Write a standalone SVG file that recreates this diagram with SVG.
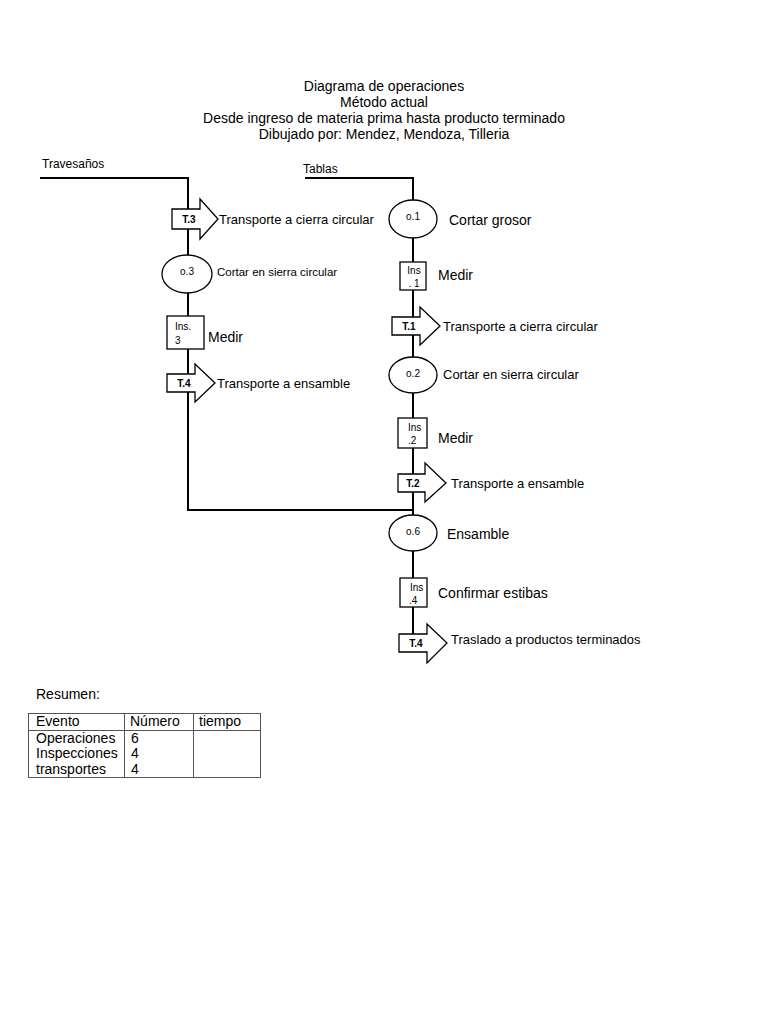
<svg xmlns="http://www.w3.org/2000/svg" width="768" height="1024" viewBox="0 0 768 1024">
<style>
text{font-family:"Liberation Sans",Arial,sans-serif;fill:#000}
.t{font-size:14px}
.m{font-size:13px}
.s{font-size:11.5px}
.lab{font-size:10px}
.b{font-size:10px;font-weight:bold}
.ln{stroke:#000;stroke-width:2;fill:none}
.sh{fill:#fff;stroke:#000;stroke-width:1.3}
.tb{fill:none;stroke:#555;stroke-width:1}
</style>
<rect width="768" height="1024" fill="#fff"/>
<g id="title" class="t" text-anchor="middle">
<text x="384" y="91">Diagrama de operaciones</text>
<text x="384" y="107">Método actual</text>
<text x="384" y="123">Desde ingreso de materia prima hasta producto terminado</text>
<text x="384" y="139">Dibujado por: Mendez, Mendoza, Tilleria</text>
</g>
<g id="connectors">
<polyline class="ln" points="40,178 188,178 188,511"/>
<polyline class="ln" points="305,178 413,178 413,640"/>
<line class="ln" x1="187" y1="510" x2="414" y2="510"/>
</g>
<text x="42" y="168" style="font-size:12px">Travesaños</text>
<text x="303" y="173" style="font-size:12px">Tablas</text>
<g id="T3">
<path class="sh" d="M172,209 H200 V199 L218,219 L200,239 V229 H172 Z"/>
<text class="b" x="189" y="223" text-anchor="middle">T.3</text>
<text class="m" x="219" y="224">Transporte a cierra circular</text>
</g>
<g id="o3">
<ellipse class="sh" cx="187" cy="274" rx="25" ry="19"/>
<text class="lab" x="187" y="275" text-anchor="middle">o.3</text>
<text class="s" x="217" y="276">Cortar en sierra circular</text>
</g>
<g id="Ins3">
<rect class="sh" x="167" y="316" width="37" height="33"/>
<text class="lab" x="175" y="330">Ins.</text>
<text class="lab" x="175" y="344">3</text>
<text class="t" x="208" y="342">Medir</text>
</g>
<g id="T4a">
<path class="sh" d="M167,374 H195 V364 L215,383 L195,402 V392 H167 Z"/>
<text class="b" x="184" y="387" text-anchor="middle">T.4</text>
<text class="m" x="217" y="388">Transporte a ensamble</text>
</g>
<g id="o1">
<ellipse class="sh" cx="413" cy="219" rx="24" ry="19"/>
<text class="lab" x="413" y="220" text-anchor="middle">o.1</text>
<text class="t" x="449" y="225">Cortar grosor</text>
</g>
<g id="Ins1">
<rect class="sh" x="400" y="262" width="26" height="28"/>
<text class="lab" x="414" y="274" text-anchor="middle">Ins</text>
<text class="lab" x="414" y="287" text-anchor="middle">. 1</text>
<text class="t" x="438" y="280">Medir</text>
</g>
<g id="T1">
<path class="sh" d="M392,317 H420 V307 L440,326 L420,345 V335 H392 Z"/>
<text class="b" x="409" y="330" text-anchor="middle">T.1</text>
<text class="m" x="443" y="331">Transporte a cierra circular</text>
</g>
<g id="o2">
<ellipse class="sh" cx="413" cy="375" rx="24" ry="18"/>
<text class="lab" x="413" y="377" text-anchor="middle">o.2</text>
<text class="m" x="443" y="379">Cortar en sierra circular</text>
</g>
<g id="Ins2">
<rect class="sh" x="398" y="418" width="29" height="30"/>
<text class="lab" x="408" y="431">Ins</text>
<text class="lab" x="408" y="444">.2</text>
<text class="t" x="438" y="443">Medir</text>
</g>
<g id="T2">
<path class="sh" d="M398,474 H425 V463 L446,483 L425,502 V492 H398 Z"/>
<text class="b" x="413" y="487" text-anchor="middle">T.2</text>
<text class="m" x="451" y="488">Transporte a ensamble</text>
</g>
<g id="o6">
<ellipse class="sh" cx="413" cy="533" rx="24" ry="18"/>
<text class="lab" x="413" y="535" text-anchor="middle">o.6</text>
<text class="t" x="447" y="539">Ensamble</text>
</g>
<g id="Ins4">
<rect class="sh" x="400" y="578" width="27" height="29"/>
<text class="lab" x="410" y="591">Ins</text>
<text class="lab" x="409" y="604">.4</text>
<text class="t" x="438" y="598">Confirmar estibas</text>
</g>
<g id="T4b">
<path class="sh" d="M399,634 H427 V624 L447,643 L427,663 V652 H399 Z"/>
<text class="b" x="416" y="647" text-anchor="middle">T.4</text>
<text class="m" x="451" y="644">Traslado a productos terminados</text>
</g>
<g id="resumen">
<text class="t" x="36" y="699">Resumen:</text>
<rect class="tb" x="28.5" y="713.5" width="232" height="64"/>
<line class="tb" x1="28" y1="730.5" x2="261" y2="730.5"/>
<line class="tb" x1="124.5" y1="713" x2="124.5" y2="778"/>
<line class="tb" x1="193.5" y1="713" x2="193.5" y2="778"/>
<text class="t" x="36" y="726">Evento</text>
<text class="t" x="130" y="726">Número</text>
<text class="t" x="199" y="726">tiempo</text>
<text class="t" x="36" y="743">Operaciones</text>
<text class="t" x="36" y="758">Inspecciones</text>
<text class="t" x="36" y="774">transportes</text>
<text class="t" x="131" y="743">6</text>
<text class="t" x="131" y="758">4</text>
<text class="t" x="131" y="774">4</text>
</g>
</svg>
